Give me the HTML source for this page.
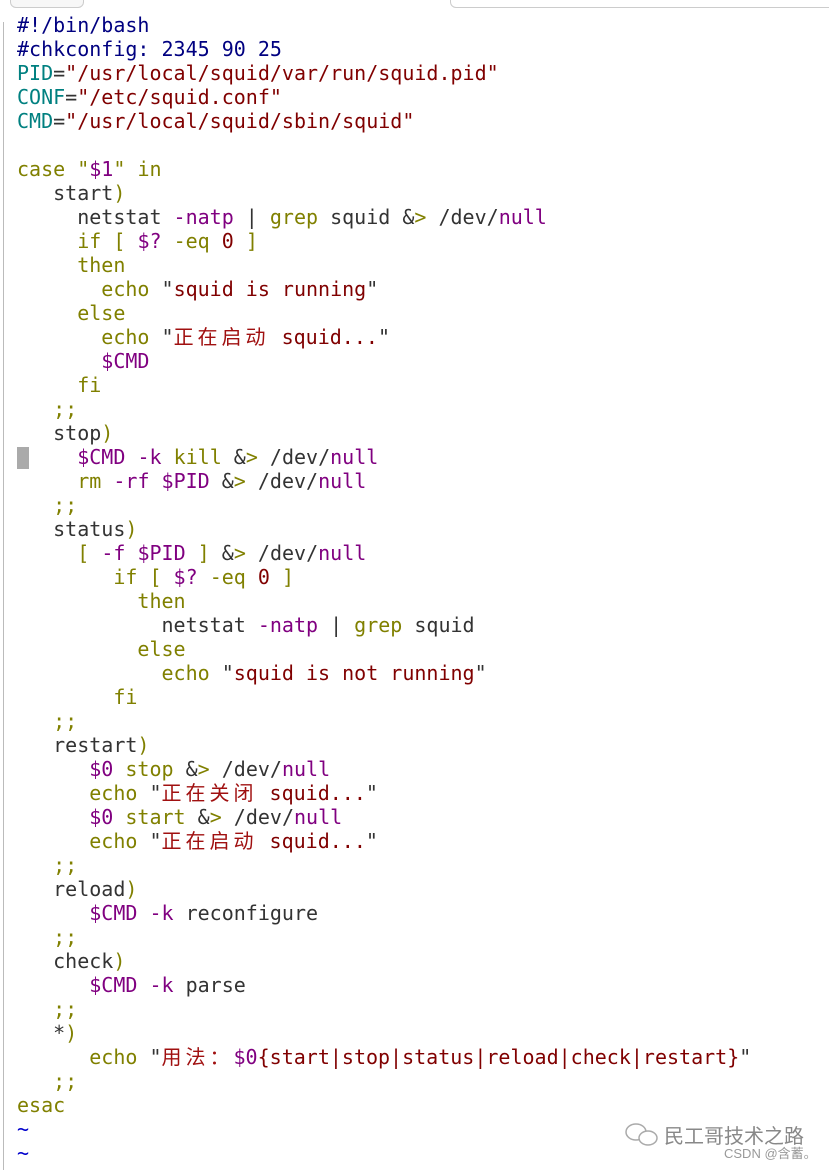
<!DOCTYPE html>
<html><head><meta charset="utf-8"><style>
body{margin:0;width:829px;height:1170px;background:#fff;overflow:hidden;position:relative}
pre{position:absolute;left:17px;top:13px;margin:0;font-family:"DejaVu Sans Mono","Liberation Mono","Noto Sans CJK SC",monospace;font-size:20px;line-height:24px;color:#333}
.c{color:#000080}.t{color:#008080}.s{color:#800000}.k{color:#808000}.p{color:#800080}.b{color:#0000cc}
.z{font-family:"Noto Sans CJK SC",sans-serif;letter-spacing:4px;color:#a01010;line-height:0}
.lb{position:absolute;left:3px;top:22px;width:1px;height:1148px;background:#bbb}
.cur{position:absolute;left:17px;top:447px;width:12px;height:22px;background:#aaa}
.wm{position:absolute;left:664px;top:1120px;font-family:"Noto Sans CJK SC",sans-serif;font-size:20px;color:#888}
.wm2{position:absolute;left:724px;top:1143px;font-family:"Liberation Sans","Noto Sans CJK SC",sans-serif;font-size:13px;color:#999}
</style></head><body>
<div style="position:absolute;left:10px;top:-10px;width:72px;height:16px;border:1px solid #ccc;border-radius:6px;background:#f7f7f7"></div>
<div style="position:absolute;left:450px;top:-10px;width:400px;height:16px;border:1px solid #ccc;border-radius:6px;background:#fff"></div>
<div class="lb"></div>
<div class="cur"></div>
<pre><span class="c">#!/bin/bash</span>
<span class="c">#chkconfig: 2345 90 25</span>
<span class="t">PID</span>=<span class="s">"/usr/local/squid/var/run/squid.pid"</span>
<span class="t">CONF</span>=<span class="s">"/etc/squid.conf"</span>
<span class="t">CMD</span>=<span class="s">"/usr/local/squid/sbin/squid"</span>

<span class="k">case</span> <span class="k">"</span><span class="p">$1</span><span class="k">"</span> <span class="k">in</span>
   start<span class="k">)</span>
     netstat <span class="p">-natp</span> | <span class="k">grep</span> squid &amp;<span class="k">&gt;</span> /dev/<span class="p">null</span>
     <span class="k">if [</span> <span class="p">$?</span> <span class="k">-eq</span> <span class="s">0</span> <span class="k">]</span>
     <span class="k">then</span>
       <span class="k">echo</span> "<span class="s">squid is running</span>"
     <span class="k">else</span>
       <span class="k">echo</span> "<span class="z">正在启动</span><span class="s"> squid...</span>"
       <span class="p">$CMD</span>
     <span class="k">fi</span>
   <span class="k">;;</span>
   stop<span class="k">)</span>
     <span class="p">$CMD</span> <span class="p">-k</span> <span class="k">kill</span> &amp;<span class="k">&gt;</span> /dev/<span class="p">null</span>
     <span class="k">rm</span> <span class="p">-rf</span> <span class="p">$PID</span> &amp;<span class="k">&gt;</span> /dev/<span class="p">null</span>
   <span class="k">;;</span>
   status<span class="k">)</span>
     <span class="k">[</span> <span class="p">-f</span> <span class="p">$PID</span> <span class="k">]</span> &amp;<span class="k">&gt;</span> /dev/<span class="p">null</span>
        <span class="k">if [</span> <span class="p">$?</span> <span class="k">-eq</span> <span class="s">0</span> <span class="k">]</span>
          <span class="k">then</span>
            netstat <span class="p">-natp</span> | <span class="k">grep</span> squid
          <span class="k">else</span>
            <span class="k">echo</span> "<span class="s">squid is not running</span>"
        <span class="k">fi</span>
   <span class="k">;;</span>
   restart<span class="k">)</span>
      <span class="p">$0</span> <span class="k">stop</span> &amp;<span class="k">&gt;</span> /dev/<span class="p">null</span>
      <span class="k">echo</span> "<span class="z">正在关闭</span><span class="s"> squid...</span>"
      <span class="p">$0</span> <span class="k">start</span> &amp;<span class="k">&gt;</span> /dev/<span class="p">null</span>
      <span class="k">echo</span> "<span class="z">正在启动</span><span class="s"> squid...</span>"
   <span class="k">;;</span>
   reload<span class="k">)</span>
      <span class="p">$CMD</span> <span class="p">-k</span> reconfigure
   <span class="k">;;</span>
   check<span class="k">)</span>
      <span class="p">$CMD</span> <span class="p">-k</span> parse
   <span class="k">;;</span>
   *<span class="k">)</span>
      <span class="k">echo</span> "<span class="z">用法：</span><span class="p">$0</span><span class="s">{start|stop|status|reload|check|restart}</span>"
   <span class="k">;;</span>
<span class="k">esac</span>
<span class="b">~</span>
<span class="b">~</span></pre>
<svg style="position:absolute;left:624px;top:1122px" width="36" height="26" viewBox="0 0 36 26"><ellipse cx="12" cy="10" rx="10" ry="8" fill="none" stroke="#aaa" stroke-width="1.5"/><ellipse cx="24" cy="16" rx="9" ry="7" fill="#fff" stroke="#aaa" stroke-width="1.5"/></svg>
<div class="wm">民工哥技术之路</div>
<div class="wm2">CSDN @含蓄。</div>
</body></html>
